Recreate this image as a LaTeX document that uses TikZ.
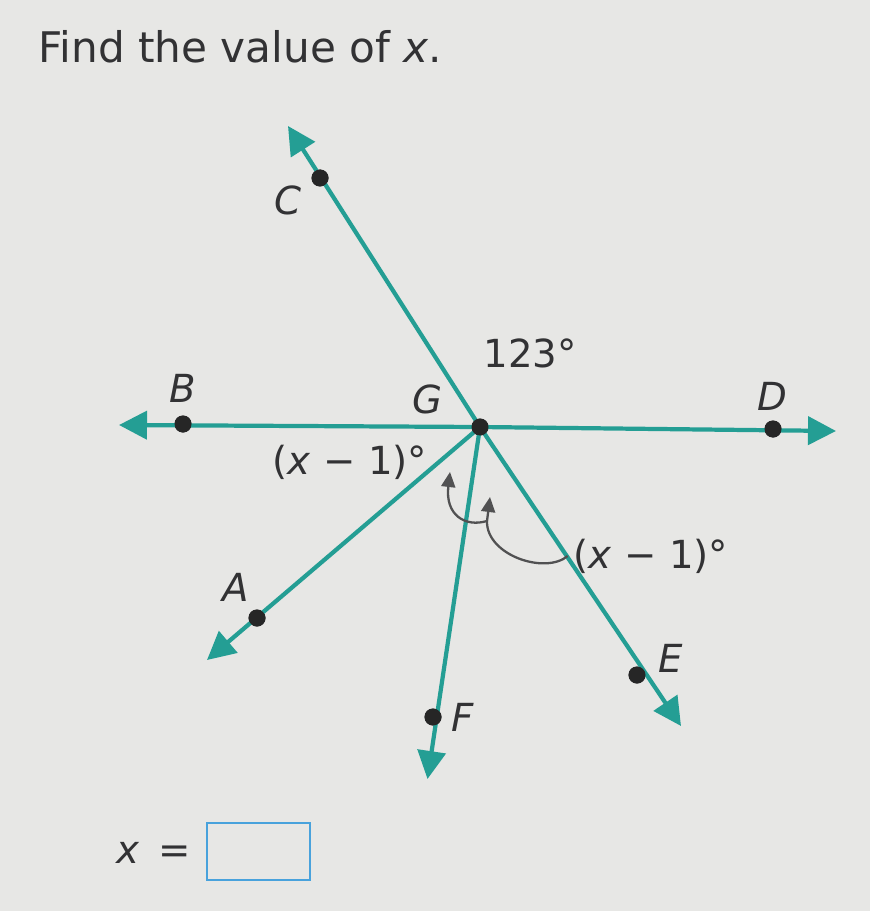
\documentclass[tikz,border=0pt]{standalone}
\usepackage{fontspec}
\setmainfont{DejaVu Sans}
\usetikzlibrary{arrows.meta,positioning}

\definecolor{rayteal}{RGB}{36,158,148}
\definecolor{paper}{RGB}{231,231,229}
\definecolor{ink}{RGB}{50,50,52}
\definecolor{boxblue}{RGB}{72,162,220}

\begin{document}
\begin{tikzpicture}[%
	>={Triangle[length=0.56cm,width=0.56cm]},
	ray/.style={draw=rayteal,line width=2.4pt,->,color=rayteal},
	pt/.style={circle,fill=black!85,inner sep=0pt,minimum size=0.34cm},
	lbl/.style={text=ink,font=\fontsize{22}{26}\selectfont\itshape},
	ang/.style={text=ink,font=\fontsize{22}{26}\selectfont},
	lead/.style={draw=ink!85,line width=1.3pt},
	tip/.style={-{Triangle[length=0.3cm,width=0.28cm]}}]

	\fill[paper] (0,0) rectangle (17.4,-18.22);
	\useasboundingbox (0,0) rectangle (17.4,-18.22);

	\node (TTL) [anchor=base west,inner sep=0pt,text=ink,font=\fontsize{24}{28}\selectfont]
		at (0.76,-1.26) {Find the value of \textit{x}.};

	\node[pt]	(G)	at (9.6,-8.54)	{};
	\node[pt]	(C)	at (6.4,-3.56)	{};
	\node[pt]	(B)	at (3.66,-8.48)	{};
	\node[pt]	(D)	at (15.46,-8.58)	{};
	\node[pt]	(A)	at (5.14,-12.36)	{};
	\node[pt]	(F)	at (8.66,-14.34)	{};
	\node[pt]	(E)	at (12.74,-13.5)	{};

	\coordinate (Ct) at (5.76,-2.52);
	\coordinate (Bt) at (2.38,-8.5);
	\coordinate (Dt) at (16.72,-8.62);
	\coordinate (At) at (4.14,-13.2);
	\coordinate (Ft) at (8.55,-15.58);
	\coordinate (Et) at (13.62,-14.52);

	\path[ray] (G.center) -- (Ct);
	\path[ray] (G.center) -- (Bt);
	\path[ray] (G.center) -- (Dt);
	\path[ray] (G.center) -- (At);
	\path[ray] (G.center) -- (Ft);
	\path[ray] (G.center) -- (Et);

	\node[pt] at (G) {};
	\node[pt] at (C) {};
	\node[pt] at (B) {};
	\node[pt] at (D) {};
	\node[pt] at (A) {};
	\node[pt] at (F) {};
	\node[pt] at (E) {};

	\node[lbl]	(Cl)	at (5.76,-4.0)	{C};
	\node[lbl]	(Bl)	at (3.66,-7.76)	{B};
	\node[lbl]	(Gl)	at (8.54,-7.98)	{G};
	\node[lbl]	(Dl)	at (15.44,-7.92)	{D};
	\node[lbl]	(Al)	at (4.72,-11.74)	{A};
	\node[lbl]	(Fl)	at (9.26,-14.34)	{F};
	\node[lbl]	(El)	at (13.42,-13.16)	{E};

	\node[ang]	(CGD)	at (10.6,-7.06)	{123°};
	\node[ang]	(BGA)	at (7.0,-9.24)	{(\textit{x} − 1)°};
	\node[ang]	(AFE)	at (13.02,-11.12)	{(\textit{x} − 1)°};

	\coordinate (J) at (9.74,-10.42);
	\coordinate (h1) at (9.0,-9.44);
	\coordinate (h2) at (9.8,-9.94);

	\draw[lead] (AFE.west) .. controls (10.9,-11.5) and (9.72,-11.1) .. (J);
	\draw[lead,tip] (J) -- (h2);
	\draw[lead,tip] (J) .. controls (9.3,-10.55) and (8.9,-10.3) .. (h1);

	\node (XEQ) [text=ink,font=\fontsize{22}{26}\selectfont]
		at (3.08,-17.06) {\textit{x} \,=};
	\draw[boxblue,line width=1.2pt] (4.14,-16.46) rectangle (6.2,-17.6);

\end{tikzpicture}
\end{document}
